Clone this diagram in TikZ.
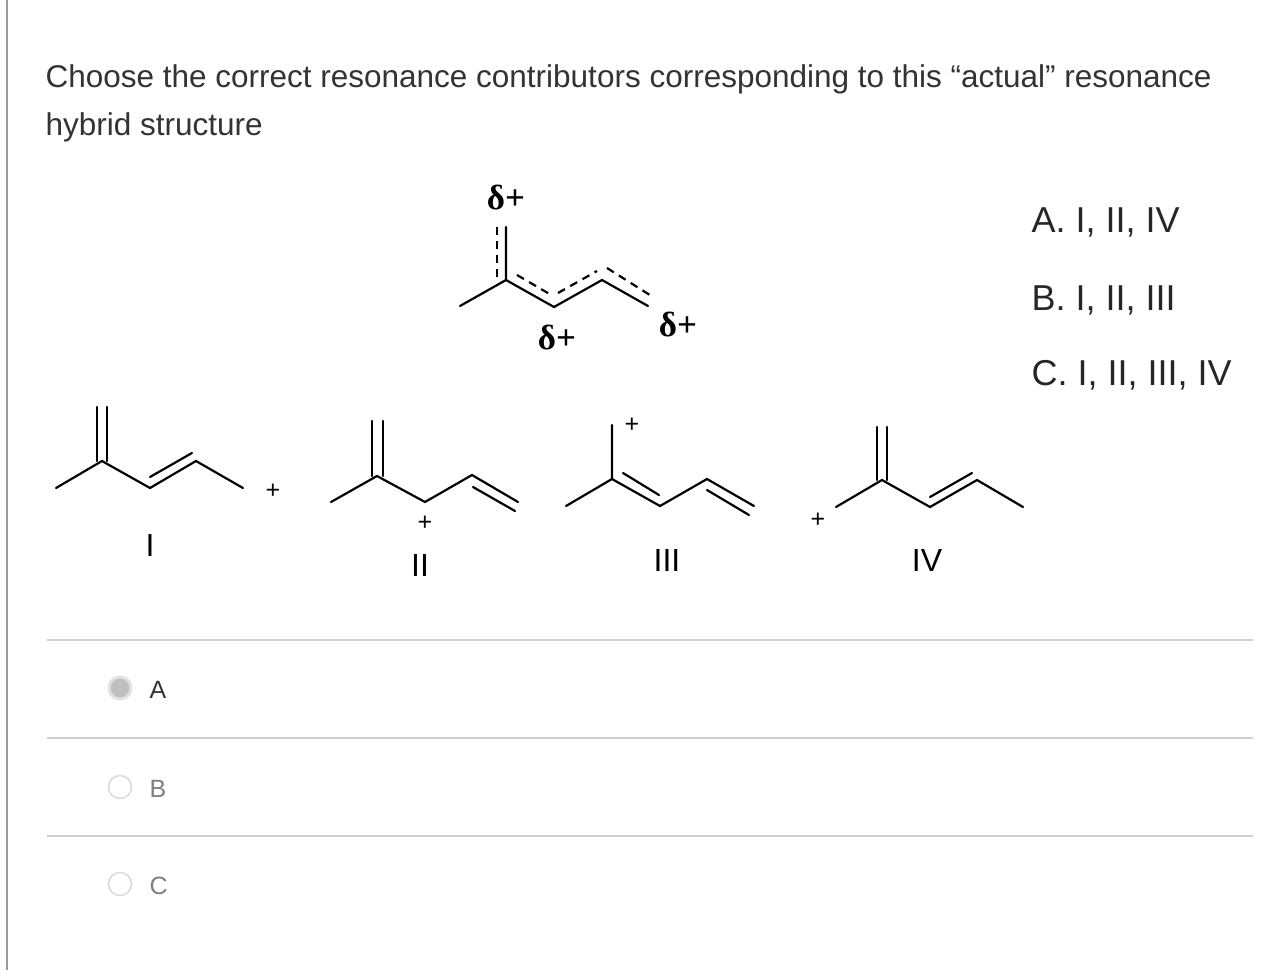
\documentclass[tikz,border=0pt]{standalone}
\usepackage{fontspec}
\setmainfont{Liberation Sans}
\newfontfamily\serifb{Liberation Serif}
\begin{document}
\begin{tikzpicture}[x=1pt,y=-1pt,
  bond/.style={line width=2.2pt,line cap=round},
  dbond/.style={line width=2.2pt,dash pattern=on 8pt off 6pt},
  lab/.style={font=\fontsize{32}{32}\selectfont,text=black},
  plus/.style={font=\fontsize{25}{25}\selectfont},
  dlt/.style={font=\serifb\bfseries\fontsize{35}{35}\selectfont},
  ans/.style={font=\fontsize{36}{36}\selectfont,anchor=west,text=black!85},
  sep/.style={draw=black!18,line width=1.2pt},
  txt/.style={font=\fontsize{31.5}{31.5}\selectfont,text=black!80,anchor=west}]
\useasboundingbox (0,0) rectangle (1282,970);
\draw[black!40,line width=1.5pt] (7,0) -- (7,970);
\node[txt] (t1) at (42,79) {Choose the correct resonance contributors corresponding to this “actual” resonance};
\node[txt] (t2) at (42,127) {hybrid structure};
% hybrid
\coordinate (h1) at (460,306); \coordinate (h2) at (506,280); \coordinate (h3) at (506,227);
\coordinate (h4) at (554,307); \coordinate (h5) at (602,280); \coordinate (h6) at (648,306);
\draw[bond] (h1)--(h2)--(h4)--(h5)--(h6) (h2)--(h3);
\draw[dbond] (497,227)--(497,277);
\draw[dbond] (517,275)--(553,296);
\draw[dbond] (558,293)--(597,271);
\draw[dbond] (607,268)--(653,297);
\node[dlt] (d1) at (506,198) {δ+};
\node[dlt] (d2) at (557,338) {δ+};
\node[dlt] (d3) at (678,325) {δ+};
% answers
\node[ans] (a1) at (1028,222) {A. I, II, IV};
\node[ans] (a2) at (1028,300) {B. I, II, III};
\node[ans] (a3) at (1028,375) {C. I, II, III, IV};
% I
\draw[bond] (56,488)--(102,461)--(150,488)--(196,461)--(243,488);
\draw[bond] (97,461)--(97,407) (107,461)--(107,407);
\draw[bond] (150,477)--(192,453);
\node[plus] (p1) at (273,491) {+};
\node[lab] (l1) at (150,545) {I};
% II
\draw[bond] (331,502)--(377,476)--(425,502)--(472,475)--(518,502);
\draw[bond] (372,476)--(372,421) (383,476)--(383,421);
\draw[bond] (473,487)--(515,511);
\node[plus] (p2) at (425,523) {+};
\node[lab] (l2) at (420,565) {II};
% III
\draw[bond] (566,506)--(612,479)--(660,506)--(707,479)--(754,506) (612,479)--(612,425);
\draw[bond] (623,473)--(659,495) (707,490)--(749,515);
\node[plus] (p3) at (632,425) {+};
\node[lab] (l3) at (667,560) {III};
% IV
\draw[bond] (836,507)--(882,480)--(930,507)--(977,480)--(1023,507);
\draw[bond] (877,480)--(877,427) (887,480)--(887,427);
\draw[bond] (930,497)--(972,473);
\node[plus] (p4) at (818,520) {+};
\node[lab] (l4) at (927,560) {IV};
% separators
\draw[sep] (47,640)--(1253,640);
\draw[sep] (47,738)--(1253,738);
\draw[sep] (47,836)--(1253,836);
% radios
\draw[black!12,line width=3pt,fill=black!25] (120,688) circle (11);
\draw[black!15,line width=1.5pt] (120,787) circle (11.5);
\draw[black!15,line width=1.5pt] (120,884) circle (11.5);
\node[txt,text=black!80,font=\fontsize{25}{25}\selectfont] (ra) at (146,690) {A};
\node[txt,text=black!50,font=\fontsize{25}{25}\selectfont] (rb) at (146,789) {B};
\node[txt,text=black!50,font=\fontsize{25}{25}\selectfont] (rc) at (146,886) {C};
\end{tikzpicture}
\end{document}
